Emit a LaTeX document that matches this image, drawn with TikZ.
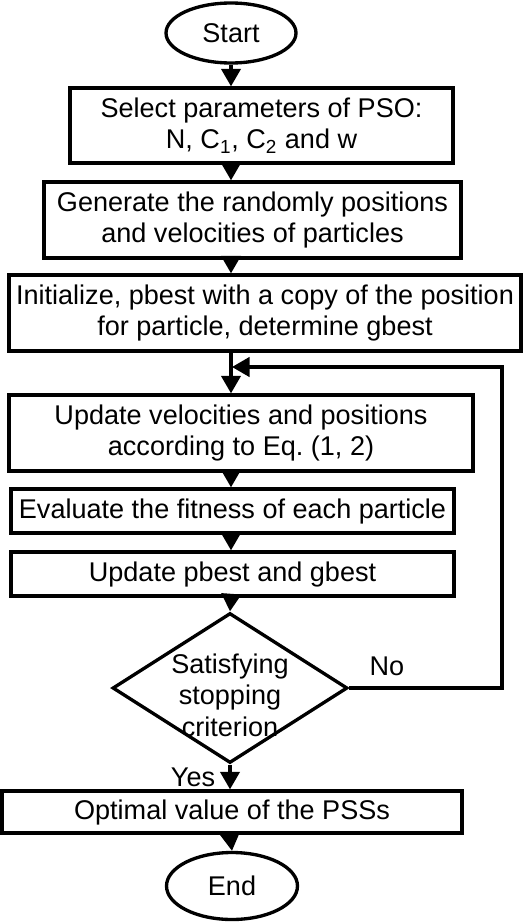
\documentclass[tikz,border=0pt]{standalone}
\usepackage{fontspec}
\setmainfont{Liberation Sans}
\usetikzlibrary{shapes.geometric,arrows.meta}

\tikzset{
    box/.style={draw, line width=1.9pt, rectangle, align=center, inner sep=0pt},
    term/.style={draw, line width=1.9pt, ellipse, inner sep=0pt},
    decide/.style={draw, line width=1.9pt, diamond, inner sep=0pt},
    arr/.style={line width=1.9pt, -{Triangle[width=11pt,length=10pt]}}
}

\begin{document}
\begin{tikzpicture}[x=0.02cm, y=-0.02cm, font=\fontsize{15.4}{18}\selectfont]
        \useasboundingbox (0,0) rectangle (523,922);

        \node[term, minimum width=2.6cm, minimum height=1.2cm] (start) at (231,33) {Start};
        \node[box, minimum width=7.66cm, minimum height=1.5cm] (params) at (261.5,125.5)
            {Select parameters of PSO:\\N, C\textsubscript{1}, C\textsubscript{2} and w};
        \node[box, minimum width=8.34cm, minimum height=1.52cm] (gen) at (252.5,220)
            {Generate the randomly positions\\and velocities of particles};
        \node[box, minimum width=10.24cm, minimum height=1.52cm] (init) at (265,313)
            {Initialize, pbest with a copy of the position\\for particle, determine gbest};
        \node[box, minimum width=9.28cm, minimum height=1.52cm] (upd) at (241,433)
            {Update velocities and positions\\according to Eq.\ (1, 2)};
        \node[box, minimum width=8.86cm, minimum height=0.88cm] (fit) at (232.5,511)
            {Evaluate the fitness of each particle};
        \node[box, minimum width=8.86cm, minimum height=0.88cm] (best) at (232.5,574)
            {Update pbest and gbest};
        \node[decide, minimum width=4.7cm, minimum height=3cm,
            label={[align=center, yshift=-0.14cm]center:Satisfying\\stopping\\criterion}]
            (stop) at (230,688) {};
        \node[box, minimum width=9.2cm, minimum height=0.84cm] (opt) at (232,812)
            {Optimal value of the PSSs};
        \node[term, minimum width=2.62cm, minimum height=1.34cm] (end) at (232,886) {End};

        \node (no) at (387,666) {No};
        \node (yes) at (193,777) {Yes};

        % main flow
        \draw[arr] (start.south) -- (start.south |- params.north);
        \draw[arr] (start.south |- params.south) -- (start.south |- gen.north);
        \draw[arr] (start.south |- gen.south) -- (start.south |- init.north);
        \draw[arr] (start.south |- init.south) -- (start.south |- upd.north);
        \draw[arr] (start.south |- upd.south) -- (start.south |- fit.north);
        \draw[arr] (start.south |- fit.south) -- (start.south |- best.north);
        \draw[arr] (start.south |- best.south) -- (stop.north);
        \draw[arr] (stop.south) -- (stop.south |- opt.north);
        \draw[arr] (stop.south |- opt.south) -- (end.north);

        % loop back
        \coordinate (merge) at (232,367);
        \draw[arr] (stop.east) -- ++(153,0) |- (merge);
\end{tikzpicture}
\end{document}
